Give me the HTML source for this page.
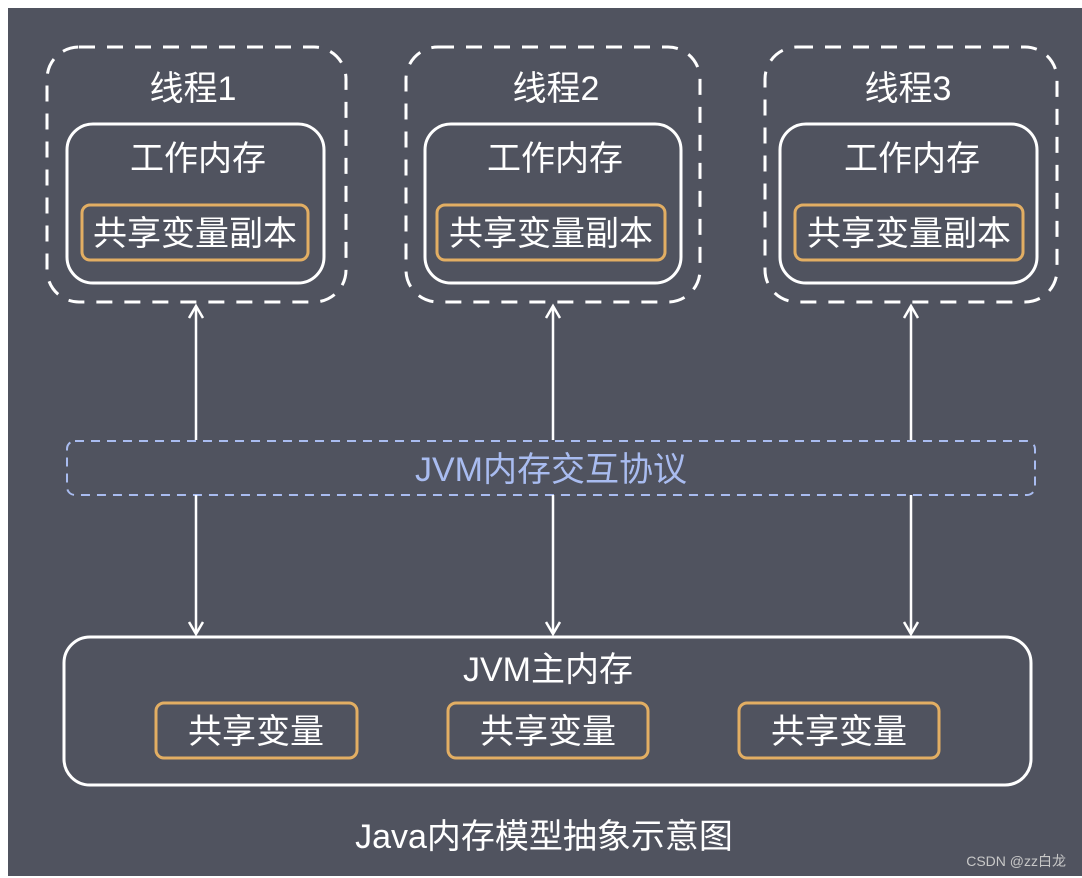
<!DOCTYPE html>
<html><head><meta charset="utf-8"><style>
html,body{margin:0;padding:0;background:#fff;}
svg{display:block;}
text{font-family:"Liberation Sans","Noto Sans CJK SC",sans-serif;}
</style></head><body>
<svg width="1082" height="878" viewBox="0 0 1082 878" xmlns="http://www.w3.org/2000/svg">
<rect x="0" y="0" width="1082" height="878" fill="#ffffff"/>
<rect x="8" y="8" width="1074" height="868" fill="#50535f"/>
<g fill="none" stroke="#fff" stroke-width="3">
<rect x="47" y="47" width="299" height="255" rx="32" stroke-dasharray="16,12"/>
<rect x="406" y="47" width="294" height="255" rx="32" stroke-dasharray="16,12"/>
<rect x="765" y="47" width="292" height="255" rx="32" stroke-dasharray="16,12"/>
<rect x="67" y="124" width="257" height="159" rx="26"/>
<rect x="425" y="124" width="256" height="159" rx="26"/>
<rect x="780" y="124" width="257" height="159" rx="26"/>
<rect x="64" y="637" width="967" height="148" rx="26"/>
</g>
<g fill="none" stroke="#e2ae63" stroke-width="3">
<rect x="82" y="205" width="226" height="55" rx="8"/>
<rect x="437" y="205" width="228" height="55" rx="8"/>
<rect x="795" y="205" width="228" height="55" rx="8"/>
<rect x="156" y="703" width="201" height="55" rx="8"/>
<rect x="448" y="703" width="200" height="55" rx="8"/>
<rect x="739" y="703" width="200" height="55" rx="8"/>
</g>
<rect x="67" y="441" width="968" height="54" rx="8" fill="none" stroke="#a9bcf0" stroke-width="2" stroke-dasharray="9,7"/>
<g stroke="#fff" stroke-width="2.5" fill="none">
<line x1="196" y1="306" x2="196" y2="440"/>
<line x1="553" y1="306" x2="553" y2="440"/>
<line x1="911" y1="306" x2="911" y2="440"/>
<line x1="196" y1="495" x2="196" y2="634"/>
<line x1="553" y1="495" x2="553" y2="634"/>
<line x1="911" y1="495" x2="911" y2="634"/>
<path d="M189,318 L196,306 L203,318"/>
<path d="M546,318 L553,306 L560,318"/>
<path d="M904,318 L911,306 L918,318"/>
<path d="M189,622 L196,634 L203,622"/>
<path d="M546,622 L553,634 L560,622"/>
<path d="M904,622 L911,634 L918,622"/>
</g>
<g fill="#fff" font-size="34" text-anchor="middle">
<text x="193" y="100">线程1</text>
<text x="556" y="100">线程2</text>
<text x="908" y="100">线程3</text>
<text x="198" y="170">工作内存</text>
<text x="555" y="170">工作内存</text>
<text x="912" y="170">工作内存</text>
<text x="195" y="245">共享变量副本</text>
<text x="551" y="245">共享变量副本</text>
<text x="909" y="245">共享变量副本</text>
<text x="548" y="681">JVM主内存</text>
<text x="256" y="743">共享变量</text>
<text x="548" y="743">共享变量</text>
<text x="839" y="743">共享变量</text>
<text x="544" y="848">Java内存模型抽象示意图</text>
</g>
<text x="551" y="481" font-size="34" fill="#a9bcf0" text-anchor="middle">JVM内存交互协议</text>
<text x="1066" y="866" font-size="14" fill="#c8c8c8" text-anchor="end">CSDN @zz白龙</text>
</svg>
</body></html>
